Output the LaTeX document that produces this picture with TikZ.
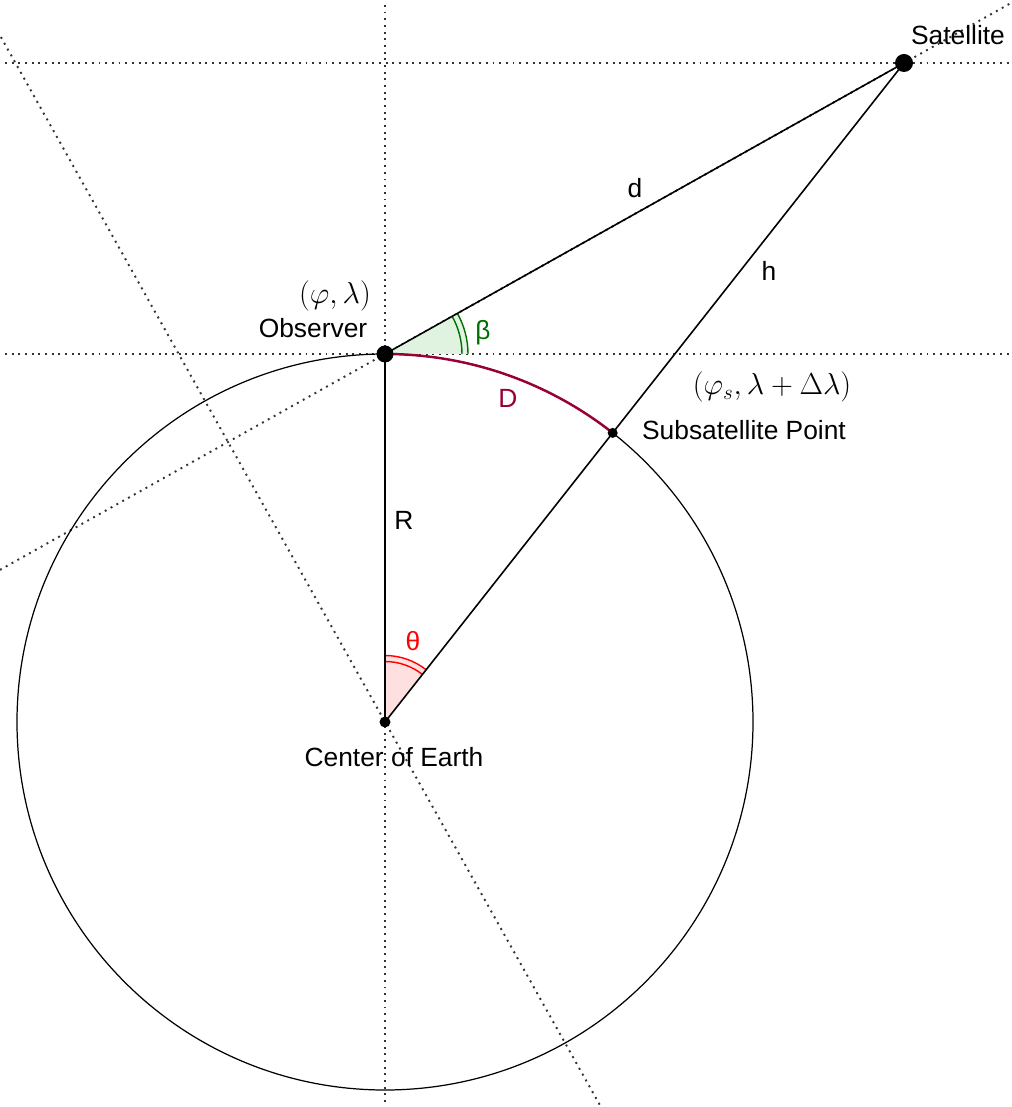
\documentclass[tikz,border=0pt]{standalone}
\usepackage{fontspec}
\setmainfont{Liberation Sans}
\usetikzlibrary{calc}

\definecolor{anglegreen}{RGB}{0,110,0}
\definecolor{arcred}{RGB}{153,0,51}
\tikzset{
 aux/.style={line width=1.1pt, dash pattern=on 1.1pt off 2.7pt, black!80},
 lbl/.style={font=\fontsize{15}{18}\selectfont},
 mlbl/.style={font=\fontsize{17.5}{20}\selectfont},
 pt/.style={fill=black}
}

\begin{document}
\begin{tikzpicture}
 \useasboundingbox (-7.70,-7.70) rectangle (12.52,14.44);
 \clip (-7.70,-7.70) rectangle (12.52,14.44);
 \coordinate (C) at (0,0);
 \coordinate (O) at (0,7.36);
 \coordinate (S) at (10.38,13.18);
 \coordinate (P) at ($(C)!7.36cm!(S)$);
 % dotted guides
 \draw[aux] (0,-8) -- (0,15);
 \draw[aux] (-8,7.36) -- (13,7.36);
 \draw[aux] (-8,13.18) -- (13,13.18);
 \draw[aux] ($(O)!-1!(S)$) -- ($(O)!2!(S)$);
 \draw[aux] (-8.4,14.98) -- (4.6,-8.20);
 % angles
 \fill[green!60!black!12] (O) -- ++(0:1.66) arc (0:29.28:1.66) -- cycle;
 \draw[anglegreen, line width=0.8pt] ($(O)+(0:1.54)$) arc (0:29.28:1.54);
 \draw[anglegreen, line width=0.8pt] ($(O)+(0:1.66)$) arc (0:29.28:1.66);
 \fill[red!12] (C) -- ++(51.78:1.33) arc (51.78:90:1.33) -- cycle;
 \draw[red, line width=0.8pt] ($(C)+(51.78:1.21)$) arc (51.78:90:1.21);
 \draw[red, line width=0.8pt] ($(C)+(51.78:1.33)$) arc (51.78:90:1.33);
 % earth and lines
 \draw[line width=0.7pt] (C) circle (7.36);
 \draw[arcred, line width=1.4pt] (O) arc (90:51.78:7.36);
 \draw[line width=0.8pt] (C) -- (O);
 \draw[line width=0.9pt] (C) -- (S);
 \draw[line width=0.9pt] (O) -- (S);
 % points
 \fill[pt] (S) circle (0.18);
 \fill[pt] (O) circle (0.17);
 \fill[pt] (P) circle (0.10);
 \fill[pt] (C) circle (0.11);
 % labels
 \node[lbl] (satlbl) at (11.46,13.74) {Satellite};
 \node[lbl] (dlbl) at (5.00,10.68) {d};
 \node[lbl] (hlbl) at (7.68,9.02) {h};
 \node[mlbl] (obscoord) at (-1.00,8.52) {$(\varphi,\lambda)$};
 \node[lbl] (obslbl) at (-1.44,7.88) {Observer};
 \node[lbl, text=anglegreen] (betalbl) at (1.96,7.78) {β};
 \node[lbl, text=arcred] (Dlbl) at (2.46,6.48) {D};
 \node[mlbl] (subcoord) at (7.74,6.70) {$(\varphi_s,\lambda+\Delta\lambda)$};
 \node[lbl] (sublbl) at (7.18,5.84) {Subsatellite Point};
 \node[lbl] (Rlbl) at (0.38,4.04) {R};
 \node[lbl, text=red] (thetalbl) at (0.56,1.62) {θ};
 \node[lbl] (cenlbl) at (0.18,-0.70) {Center of Earth};
\end{tikzpicture}
\end{document}
